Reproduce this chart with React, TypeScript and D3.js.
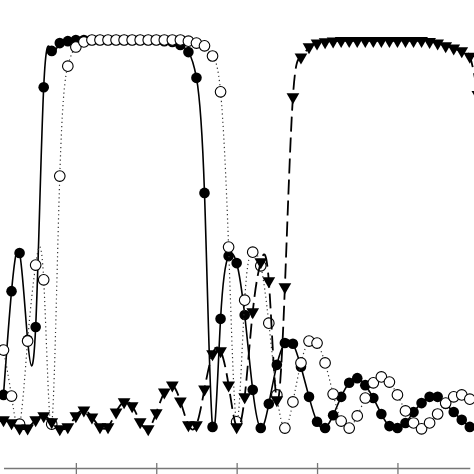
import React, { useEffect, useRef } from "react";
import * as d3 from "d3";

// x positions (sample index, 1-based); tick marks every 10 samples
const xValues: number[] = Array.from({ length: 60 }, (_, k) => k + 1);
const xTicks: number[] = [0, 10, 20, 30, 40, 50, 60];

// Series A: filled circles, solid line
const seriesA: number[] = [
  0.09, 0.356, 0.454, 0.231, 0.264, 0.879, 0.972, 0.992, 0.997, 1.0,
  1.0, 1.0, 1.0, 1.0, 1.0, 1.0, 1.0, 1.0, 1.0, 1.0,
  0.997, 0.995, 0.987, 0.969, 0.903, 0.608, 0.008, 0.285, 0.446, 0.428,
  0.295, 0.103, 0.005, 0.067, 0.167, 0.223, 0.221, 0.162, 0.085, 0.021,
  0.005, 0.038, 0.085, 0.121, 0.133, 0.115, 0.082, 0.041, 0.01, 0.005,
  0.018, 0.046, 0.069, 0.085, 0.085, 0.067, 0.046, 0.026, 0.008,
];

// Series B: open circles, dotted line
const seriesB: number[] = [
  0.205, 0.087, 0.015, 0.228, 0.423, 0.385, 0.015, 0.651, 0.933, 0.982,
  0.995, 1.0, 1.0, 1.0, 1.0, 1.0, 1.0, 1.0, 1.0, 1.0,
  1.0, 1.0, 1.0, 0.997, 0.992, 0.985, 0.959, 0.867, 0.469, 0.021,
  0.333, 0.456, 0.421, 0.274, 0.09, 0.005, 0.072, 0.172, 0.228, 0.223,
  0.172, 0.092, 0.023, 0.005, 0.036, 0.082, 0.121, 0.136, 0.123, 0.09,
  0.049, 0.018, 0.003, 0.018, 0.041, 0.069, 0.085, 0.09, 0.079,
];

// Series C: filled down-triangles, dashed line (last sample lies past the right edge)
const seriesC: number[] = [
  0.026, 0.018, 0.005, 0.005, 0.026, 0.036, 0.021, 0.003, 0.008, 0.036,
  0.051, 0.033, 0.008, 0.008, 0.046, 0.072, 0.062, 0.021, 0.003, 0.044,
  0.097, 0.115, 0.074, 0.013, 0.013, 0.105, 0.195, 0.203, 0.115, 0.008,
  0.085, 0.303, 0.431, 0.382, 0.077, 0.367, 0.854, 0.956, 0.982, 0.992,
  0.995, 0.997, 0.998, 0.998, 0.998, 0.998, 0.998, 0.998, 0.998, 0.998,
  0.998, 0.998, 0.998, 0.996, 0.992, 0.985, 0.979, 0.972, 0.958, 0.86,
];

const W = 474;
const H = 474;

export default function App() {
  const ref = useRef<SVGSVGElement | null>(null);

  useEffect(() => {
    const svg = d3.select(ref.current);
    svg.selectAll("*").remove();

    const x = d3.scaleLinear().domain([1, 59]).range([3.5, 469.8]);
    const y = d3.scaleLinear().domain([0, 1]).range([430, 40]);

    // bottom axis
    const axis = d3
      .axisBottom(x)
      .tickValues(xTicks)
      .tickSizeInner(8)
      .tickSizeOuter(0)
      .tickFormat(() => "");
    const gAxis = svg.append("g").attr("transform", "translate(0,468)").call(axis);
    gAxis.select(".domain").attr("stroke", "#777").attr("stroke-width", 1.5);
    gAxis.selectAll(".tick line").attr("stroke", "#777").attr("stroke-width", 1.3).attr("y1", -5);

    const line = (vals: number[]) =>
      d3
        .line<number>()
        .x((_, k) => x(xValues[k]))
        .y((v) => y(v))
        .curve(d3.curveNatural)(vals) as string;

    // Series A
    svg
      .append("path")
      .attr("d", line(seriesA))
      .attr("fill", "none")
      .attr("stroke", "#000")
      .attr("stroke-width", 1.6);
    svg
      .append("g")
      .selectAll("circle")
      .data(seriesA)
      .join("circle")
      .attr("cx", (_, k) => x(xValues[k]))
      .attr("cy", (v) => y(v))
      .attr("r", 5.3)
      .attr("fill", "#000");

    // Series B
    svg
      .append("path")
      .attr("d", line(seriesB))
      .attr("fill", "none")
      .attr("stroke", "#333")
      .attr("stroke-width", 1.2)
      .attr("stroke-dasharray", "1.2,3");
    svg
      .append("g")
      .selectAll("circle")
      .data(seriesB)
      .join("circle")
      .attr("cx", (_, k) => x(xValues[k]))
      .attr("cy", (v) => y(v))
      .attr("r", 5.3)
      .attr("fill", "#fff")
      .attr("stroke", "#000")
      .attr("stroke-width", 1.1);

    // Series C
    svg
      .append("path")
      .attr("d", line(seriesC))
      .attr("fill", "none")
      .attr("stroke", "#000")
      .attr("stroke-width", 1.8)
      .attr("stroke-dasharray", "15,6");
    const tri = d3.symbol().type(d3.symbolTriangle).size(70)() as string;
    svg
      .append("g")
      .selectAll("path")
      .data(seriesC)
      .join("path")
      .attr("d", tri)
      .attr("transform", (v, k) => `translate(${x(xValues[k])},${y(v)}) rotate(180)`)
      .attr("fill", "#000");
  }, []);

  return (
    <svg
      ref={ref}
      width={W}
      height={H}
      viewBox={`0 0 ${W} ${H}`}
      style={{ position: "absolute", left: 0, top: 0, background: "#fff" }}
    />
  );
}
